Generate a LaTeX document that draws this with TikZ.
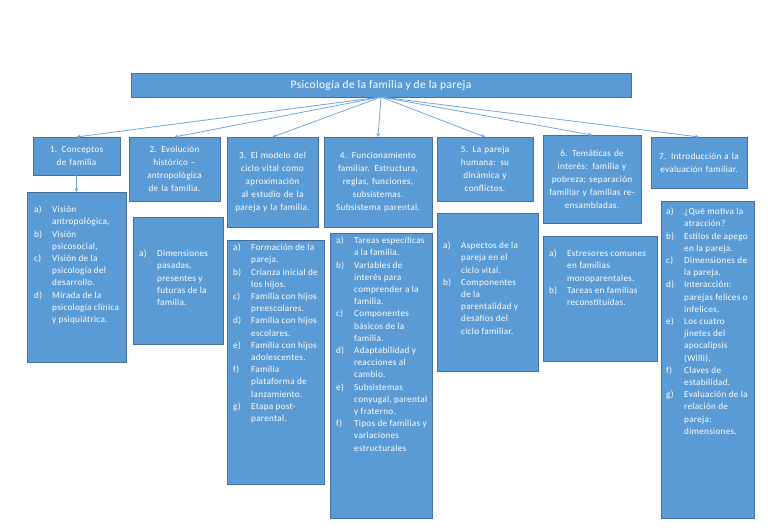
\documentclass[tikz,border=0pt]{standalone}
\usepackage{fontspec}
\setmainfont{Carlito}[LetterSpace=3]
\usepackage{array}
\newcolumntype{L}[1]{>{\raggedright\arraybackslash}p{#1}}
\newcommand{\lstb}[2]{\begin{tabular}{@{}L{18pt}@{}L{#1}@{}}#2\end{tabular}}
\hyphenpenalty=10000\relax
\begin{document}
\begin{tikzpicture}[x=1pt,y=-1pt,
  bx/.style={fill=boxc,draw=boxd,line width=0.8pt,inner sep=0pt},
  tx/.style={text=white,font=\fontsize{9.2}{12.2}\selectfont,inner sep=0pt},
  hd/.style={tx,align=center,font=\fontsize{9.2}{13}\selectfont},
  arr/.style={-stealth,draw=arrc,line width=0.8pt}]
\definecolor{boxc}{HTML}{5B9BD5}
\definecolor{boxd}{HTML}{41719C}
\definecolor{arrc}{HTML}{6FA6DC}
\useasboundingbox (0,0) rectangle (768,532);
\fill[white] (0,0) rectangle (768,532);
\newcommand{\bxr}[5]{\path[bx] (#2,#3) rectangle (#4,#5); \coordinate (#1) at ({(#2+#4)/2},{(#3+#5)/2}); \coordinate (#1n) at ({(#2+#4)/2},#3); \coordinate (#1s) at ({(#2+#4)/2},#5);}
% title
\bxr{t}{131}{73}{631}{97}
\node[tx,font=\fontsize{11.5}{13}\selectfont] (title) at (t) {Psicología de la familia y de la pareja};
% top boxes
\bxr{a}{33}{137}{120}{175}
\bxr{b}{129}{137}{220}{201}
\bxr{c}{227}{137}{318}{227}
\bxr{d}{324}{137}{432}{227}
\bxr{e}{437}{137}{533}{201}
\bxr{f}{543}{135}{641}{223}
\bxr{g}{651}{137}{747}{188}
\node[hd,text width=80pt] (A) at (a) {1. Conceptos de familia};
\node[hd,text width=80pt] (B) at (b) {2. Evolución histórico -- antropológica de la familia.};
\node[hd,text width=80pt] (C) at (c) {3. El modelo del ciclo vital como aproximación al estudio de la pareja y la familia.};
\node[hd,text width=104pt] (D) at (d) {4. Funcionamiento familiar. Estructura, reglas, funciones, subsistemas. Subsistema parental.};
\node[hd,text width=62pt] (E) at (e) {5. La pareja humana: su dinámica y conflictos.};
\node[hd,text width=96pt] (F) at (f) {6. Temáticas de interés: familia y pobreza; separación familiar y familias re-\\ensambladas.};
\node[hd,text width=84pt] (G) at (g) {7. Introducción a la evaluación familiar.};
% arrows
\foreach \k in {a,b,c,d,e,f,g} \draw[arr] (ts) -- (\k n);
% lower boxes
\bxr{la}{27}{192}{126}{362}
\bxr{lb}{133}{217}{223}{344}
\bxr{lc}{227}{240}{324}{484}
\bxr{ld}{330}{233}{432}{518}
\bxr{le}{437}{213}{538}{371}
\bxr{lf}{543}{236}{657}{361}
\bxr{lg}{661}{201}{754}{518}
\draw[arr] (as) -- (lan);
\node[tx,anchor=north west] (LA) at (34,204) {\lstb{70pt}{a) & Visión antropológica,\\ b) & Visión psicosocial,\\ c) & Visión de la psicología del desarrollo.\\ d) & Mirada de la psicología clínica y psiquiátrica.}};
\node[tx,anchor=north west] (LB) at (139,248) {\lstb{66pt}{a) & Dimensiones pasadas, presentes y futuras de la familia.}};
\node[tx,anchor=north west] (LC) at (233,242) {\lstb{70pt}{a) & Formación de la pareja.\\ b) & Crianza inicial de los hijos.\\ c) & Familia con hijos preescolares.\\ d) & Familia con hijos escolares.\\ e) & Familia con hijos adolescentes.\\ f) & Familia plataforma de lanzamiento.\\ g) & Etapa post-\\ & parental.}};
\node[tx,anchor=north west] (LD) at (336,235) {\lstb{75pt}{a) & Tareas específicas a la familia.\\ b) & Variables de interés para comprender a la familia.\\ c) & Componentes básicos de la familia.\\ d) & Adaptabilidad y reacciones al cambio.\\ e) & Subsistemas conyugal, parental y fraterno.\\ f) & Tipos de familias y variaciones estructurales}};
\node[tx,anchor=north west] (LE) at (443,240) {\lstb{66pt}{a) & Aspectos de la pareja en el ciclo vital.\\ b) & Componentes de la parentalidad y desafíos del ciclo familiar.}};
\node[tx,anchor=north west] (LF) at (549,248) {\lstb{90pt}{a) & Estresores comunes en familias monoparentales.\\ b) & Tareas en familias reconstituidas.}};
\node[tx,anchor=north west] (LG) at (666,206) {\lstb{68pt}{a) & ¿Qué motiva la atracción?\\ b) & Estilos de apego en la pareja.\\ c) & Dimensiones de la pareja.\\ d) & Interacción: parejas felices o infelices.\\ e) & Los cuatro jinetes del apocalipsis (Willi).\\ f) & Claves de estabilidad.\\ g) & Evaluación de la relación de pareja: dimensiones.}};
\end{tikzpicture}
\end{document}
